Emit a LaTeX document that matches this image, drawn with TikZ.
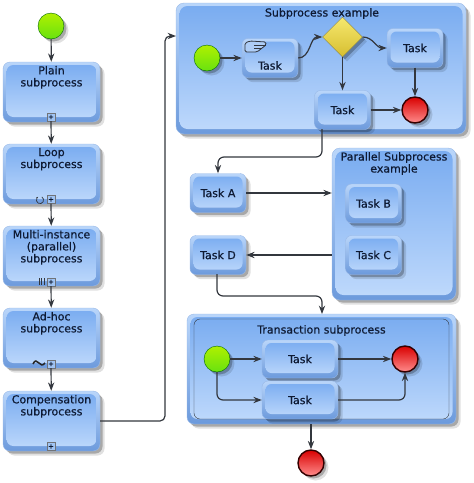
\documentclass[tikz,border=0pt]{standalone}
\usepackage{fontspec}
\setmainfont{DejaVu Sans}[FakeBold=0.5]
\usepackage{xcolor}
\usetikzlibrary{positioning, shapes.geometric, arrows.meta, calc, shadows}
\definecolor{edge}{HTML}{33373E}
\definecolor{ink}{HTML}{0E1A33}
\definecolor{rimtop}{HTML}{BAD6FA}
\definecolor{rimbot}{HTML}{6C9ADC}
\definecolor{facetop}{HTML}{78ABF0}
\definecolor{facebot}{HTML}{C0DAFC}

\begin{document}
\begin{tikzpicture}[
  x=1pt, y=-1pt,
  softshadow/.style={drop shadow={shadow xshift=4.5pt, shadow yshift=-4.5pt, opacity=.12, fill=black},
                     drop shadow={shadow xshift=2.5pt, shadow yshift=-2.5pt, opacity=.25, fill=black}},
  bevel/.style={rounded corners=#1pt, draw=rimbot!70, top color=rimtop, bottom color=rimbot,
                softshadow, inner sep=0pt,
                path picture={\shade[rounded corners=#1pt, top color=facetop, bottom color=facebot]
                  ([shift={(3.5pt,5pt)}]path picture bounding box.south west) rectangle
                  ([shift={(-3.5pt,-3pt)}]path picture bounding box.north east);}},
  subproc/.style={bevel=7, minimum width=97pt, minimum height=60pt},
  task/.style={bevel=6, minimum width=56pt, minimum height=39pt, font=\fontsize{11}{12}\selectfont\color{ink}},
  widetask/.style={task, minimum width=76pt, minimum height=38pt},
  caption/.style={font=\fontsize{11}{12}\selectfont\color{ink}, align=center, inner sep=0pt},
  plusmark/.style={draw=edge!70, fill=facetop!70, minimum size=8pt, inner sep=0pt, font=\fontsize{7}{7}\selectfont\color{ink}},
  startev/.style={circle, draw=green!40!black, top color={rgb,255:red,176;green,240;blue,0}, bottom color={rgb,255:red,104;green,226;blue,16},
                  minimum size=26pt, inner sep=0pt, softshadow},
  endev/.style={circle, draw=black!80!red, line width=1.4pt, top color=red!85!black, bottom color=red!45!white,
                minimum size=26pt, inner sep=0pt, softshadow},
  gateway/.style={diamond, draw=yellow!50!black, top color={rgb,255:red,246;green,232;blue,110}, bottom color={rgb,255:red,214;green,190;blue,48},
                  minimum size=40pt, inner sep=0pt, softshadow},
  arrow/.style={-Stealth, color=edge, line width=1.2pt}
]
  \useasboundingbox (0,0) rectangle (474,483);

  % left column
  \node[startev] (start) at (51,26) {};
  \node[subproc] (plain) at (51.5,92) {};
  \node[subproc] (loop) at (51.5,174) {};
  \node[subproc] (multi) at (51.5,256) {};
  \node[subproc] (adhoc) at (51.5,338) {};
  \node[subproc] (compensation) at (51.5,421) {};
  \node[caption, below=4pt of plain.north] (plaintext) {Plain\\subprocess};
  \node[caption, below=4pt of loop.north] (looptext) {Loop\\subprocess};
  \node[caption, below=4pt of multi.north] (multitext) {Multi-instance\\(parallel)\\subprocess};
  \node[caption, below=4pt of adhoc.north] (adhoctext) {Ad-hoc\\subprocess};
  \node[caption, below=4pt of compensation.north] (compensationtext) {Compensation\\subprocess};
  \node[plusmark] (plainmark) at (51,117) {+};
  \node[plusmark] (loopmark) at (51,199.5) {+};
  \node[plusmark] (multimark) at (51,282) {+};
  \node[plusmark] (adhocmark) at (51,364) {+};
  \node[plusmark] (compensationmark) at (51,446.5) {+};

  \draw[edge, line width=.7pt, -{Stealth[length=2pt]}] (41.8,196.9) arc (-60:240:3.6);
  \draw[edge, line width=1pt] (39,278) -- (39,285) (41.5,278) -- (41.5,285) (44,278) -- (44,285);
  \draw[black!85, line width=1.5pt] (33,364) .. controls (37,355) and (40,370) .. (45,363);

  \draw[arrow] (start) -- (plain);
  \draw[arrow] (plainmark) -- (loop);
  \draw[arrow] (loopmark) -- (multi);
  \draw[arrow] (multimark) -- (adhoc);
  \draw[arrow] (adhocmark) -- (compensation);

  % subprocess example
  \node[bevel=8, minimum width=290pt, minimum height=131pt] (example) at (321,68.5) {};
  \node[caption] (exampletext) at (322,13.5) {Subprocess example};
  \node[startev] (examplestart) at (207,58) {};
  \node[task] (manual) at (270,58) {};
  \node[caption] (manualtext) at (270,65.5) {Task};
  \node[gateway] (choice) at (342.5,37) {};
  \node[task] (taskright) at (415,48) {Task};
  \node[task] (tasklow) at (342.5,110) {Task};
  \node[endev] (exampleend) at (415,110) {};
  \draw[edge, line width=.8pt, rounded corners=1.5pt, fill=facetop!60]
    (245,43) -- (245,52) -- (257,52) -- (266,45) -- (266,42) -- (250,41) -- cycle;
  \draw[edge, line width=.6pt] (254,45) -- (266,45) (254,48) -- (262,48);
  \coordinate (examplein) at (176,36);
  \coordinate (lowout) at (322,129);

  \draw[arrow, rounded corners=5pt] (compensation) -| (165,36) -- (examplein);
  \draw[arrow] (examplestart) -- (manual);
  \draw[arrow] (manual.east) to[out=0, in=180] (choice.west);
  \draw[arrow] (choice.east) to[out=0, in=180] (taskright.west);
  \draw[arrow] (choice) -- (tasklow);
  \draw[arrow] (taskright) -- (exampleend);
  \draw[arrow] (tasklow) -- (exampleend);

  % parallel part
  \node[task] (taska) at (218,193) {Task A};
  \node[task] (taskd) at (218,255) {Task D};
  \node[bevel=8, minimum width=124pt, minimum height=152pt] (parallel) at (394,224) {};
  \node[caption] (paralleltext) at (394,163.5) {Parallel Subprocess\\example};
  \node[task] (taskb) at (373.5,203.5) {Task B};
  \node[task] (taskc) at (373.5,255) {Task C};
  \coordinate (taskdout) at (217,274);
  \coordinate (transin) at (322,314);

  \draw[arrow, rounded corners=6pt] (lowout) -- ++(0,28) -| (taska);
  \draw[arrow] (taska) -- (taska -| parallel.west);
  \draw[arrow] (taskd -| parallel.west) -- (taskd);
  \draw[arrow, rounded corners=6pt] (taskdout) -- ++(0,22) -| (transin);

  % transaction
  \node[bevel=7, minimum width=269pt, minimum height=110pt] (transaction) at (321.5,369) {};
  \node[draw=edge, rounded corners=6pt, minimum width=255pt, minimum height=100pt, inner sep=0pt] (frame) at (321.5,369) {};
  \node[caption] (transactiontext) at (321.5,330.5) {Transaction subprocess};
  \node[startev] (transstart) at (217,359) {};
  \node[endev] (transend) at (405,359) {};
  \node[widetask] (tasktop) at (300,359) {Task};
  \node[widetask] (taskbot) at (300,400) {Task};
  \node[endev] (finish) at (311,463) {};

  \draw[arrow] (transstart) -- (tasktop);
  \draw[arrow] (tasktop) -- (transend);
  \draw[arrow, rounded corners=6pt] (transstart) |- (taskbot);
  \draw[arrow, rounded corners=6pt] (taskbot) -| (transend);
  \draw[arrow] (transaction.south -| finish) -- (finish);
\end{tikzpicture}
\end{document}
